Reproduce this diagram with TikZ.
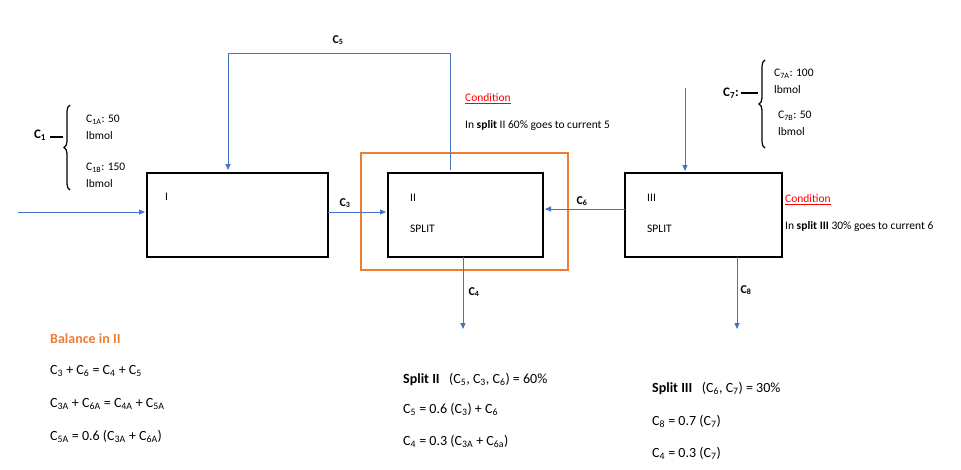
\documentclass[tikz,border=0pt]{standalone}
\usepackage{fontspec}
\setmainfont{Carlito}
\usetikzlibrary{arrows.meta,decorations.pathreplacing}
\definecolor{bl}{HTML}{4472C4}
\definecolor{org}{HTML}{ED7D31}
\newcommand{\sbx}[1]{\textsubscript{#1}}
\begin{document}
\begin{tikzpicture}[x=1pt,y=-1pt,
 box/.style={draw,line width=2pt},
 flow/.style={bl,line width=1pt,-{Triangle[length=6pt,width=5pt]}},
 t/.style={anchor=west,inner sep=0,font=\fontsize{11.5}{13}\selectfont},
 eq/.style={anchor=west,inner sep=0,font=\fontsize{14}{16}\selectfont},
 lb/.style={inner sep=0,font=\bfseries\fontsize{12}{14}\selectfont},
 br/.style={decorate,decoration={brace,amplitude=6pt},line width=1.2pt}]
\useasboundingbox (0,0) rectangle (961,469);
\draw[box] (147,173) rectangle (328,257);
\draw[box] (388,173) rectangle (543,257);
\draw[box] (625,173) rectangle (782,257);
\draw[org,line width=2.5pt] (361,153) rectangle (568,270);
\coordinate (in0) at (18,212); \coordinate (in1) at (145,212);
\draw[flow] (in0) -- (in1);
\coordinate (c3a) at (328,212); \coordinate (c3b) at (386,212);
\draw[flow] (c3a) -- (c3b); \node[lb] (c3) at (345,203) {C\sbx{3}};
\coordinate (c6a) at (625,209); \coordinate (c6b) at (545,209);
\draw[flow] (c6a) -- (c6b); \node[lb] (c6) at (582,201) {C\sbx{6}};
\coordinate (c5a) at (450,170); \coordinate (c5b) at (228,170);
\draw[flow] (c5a) -- (450,53) -- (228,53) -- (c5b); \node[lb] (c5) at (338,40) {C\sbx{5}};
\coordinate (c4a) at (463,257); \coordinate (c4b) at (463,329);
\draw[flow] (c4a) -- (c4b); \node[lb] (c4) at (474,292) {C\sbx{4}};
\coordinate (c8a) at (737,257); \coordinate (c8b) at (737,329);
\draw[flow] (c8a) -- (c8b); \node[lb] (c8) at (746,290) {C\sbx{8}};
\coordinate (c7a) at (685,88); \coordinate (c7b) at (685,171);
\draw[flow] (c7a) -- (c7b);
\node[t] (l1) at (165,197) {I};
\node[t] (l2) at (410,198) {II};
\node[t] (s2) at (410,229) {SPLIT};
\node[t] (l3) at (647,198) {III};
\node[t] (s3) at (647,229) {SPLIT};
\node[t,text=red] (cd1) at (465,99) {\underline{Condition}};
\node[t] (cd1t) at (465,125) {In \textbf{split} II 60\% goes to current 5};
\node[t,text=red] (cd2) at (785,200) {\underline{Condition}};
\node[t] (cd2t) at (785,226) {In \textbf{split III} 30\% goes to current 6};
% C1 brace
\draw[br] (70,190) -- (70,105);
\draw[line width=1.2pt] (50,137) -- (63,137);
\node[lb,font=\bfseries\fontsize{13}{14}\selectfont] (c1) at (40,135) {C\sbx{1}};
\node[t] (c1a) at (86,120) {C\sbx{1A}: 50};
\node[t] (c1am) at (86,136) {lbmol};
\node[t] (c1b) at (86,168) {C\sbx{1B}: 150};
\node[t] (c1bm) at (86,184) {lbmol};
% C7 brace
\draw[br] (765,148) -- (765,60);
\draw[line width=1.2pt] (741,93) -- (758,93);
\node[lb,font=\bfseries\fontsize{13}{14}\selectfont] (c7) at (731,93) {C\sbx{7}:};
\node[t] (c7a1) at (774,74) {C\sbx{7A}: 100};
\node[t] (c7am) at (774,90) {lbmol};
\node[t] (c7b1) at (778,116) {C\sbx{7B}: 50};
\node[t] (c7bm) at (778,132) {lbmol};
% equations
\node[eq,text=org,font=\bfseries\fontsize{14}{16}\selectfont] (bal) at (50,339) {Balance in II};
\node[eq] (e1) at (50,371) {C\sbx{3} + C\sbx{6} = C\sbx{4} + C\sbx{5}};
\node[eq] (e2) at (50,404) {C\sbx{3A} + C\sbx{6A} = C\sbx{4A} + C\sbx{5A}};
\node[eq] (e3) at (50,436) {C\sbx{5A} = 0.6 (C\sbx{3A} + C\sbx{6A})};
\node[eq] (f1) at (403,379) {\textbf{Split II} \ \ (C\sbx{5}, C\sbx{3}, C\sbx{6}) = 60\%};
\node[eq] (f2) at (403,409) {C\sbx{5} = 0.6 (C\sbx{3}) + C\sbx{6}};
\node[eq] (f3) at (403,441) {C\sbx{4} = 0.3 (C\sbx{3A} + C\sbx{6a})};
\node[eq] (g1) at (652,388) {\textbf{Split III} \ \ (C\sbx{6}, C\sbx{7}) = 30\%};
\node[eq] (g2) at (652,421) {C\sbx{8} = 0.7 (C\sbx{7})};
\node[eq] (g3) at (652,453) {C\sbx{4} = 0.3 (C\sbx{7})};
\end{tikzpicture}
\end{document}
